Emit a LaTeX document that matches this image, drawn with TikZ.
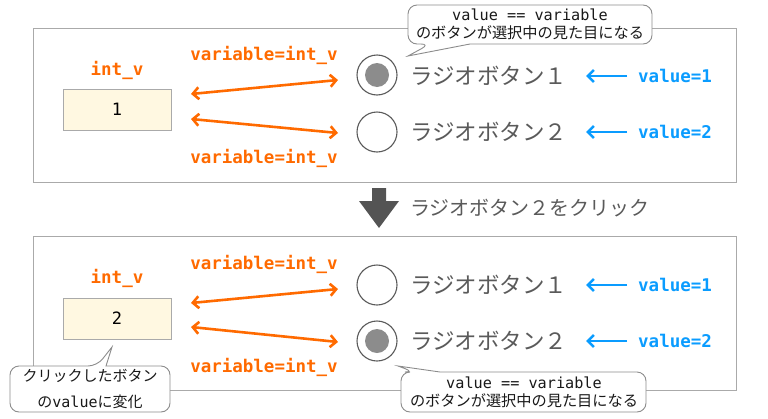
\documentclass[tikz,border=0pt]{standalone}
\usepackage{fontspec}
\newfontfamily\jp{Noto Sans CJK JP}
\newfontfamily\mono{DejaVu Sans Mono}
\usetikzlibrary{arrows.meta}
\definecolor{orng}{HTML}{FF6A00}
\definecolor{blu}{HTML}{0A9CFF}
\definecolor{txtgray}{HTML}{5A5A5A}
\definecolor{panelgray}{HTML}{AAAAAA}
\definecolor{boxfill}{HTML}{FFF8E1}
\tikzset{
  panel/.style={draw=panelgray, line width=1pt},
  varbox/.style={draw=panelgray, fill=boxfill, line width=1pt, minimum width=108pt, minimum height=41pt, inner sep=0pt, font=\mono\fontsize{17}{17}\selectfont},
  olabel/.style={text=orng, font=\mono\bfseries\fontsize{17.5}{18}\selectfont, inner sep=0pt},
  blabel/.style={text=blu, font=\mono\bfseries\fontsize{17.5}{18}\selectfont, inner sep=0pt, anchor=west},
  radiotxt/.style={text=txtgray, font=\jp\fontsize{22.5}{23}\selectfont, inner sep=0pt, anchor=west},
  radio/.style={circle, draw=txtgray, line width=1.1pt, minimum size=40pt, inner sep=0pt},
  radiodot/.style={circle, fill=black!45, minimum size=24pt, inner sep=0pt},
  oarrow/.style={draw=orng, line width=2.6pt, {Straight Barb[length=6pt,width=12pt]}-{Straight Barb[length=6pt,width=12pt]}},
  barrow/.style={draw=blu, line width=2.6pt, -{Straight Barb[length=6pt,width=12pt]}},
  callout/.style={draw=black!45, fill=white, line width=0.9pt},
  calltxt/.style={font=\fontsize{15.2}{17.5}\selectfont, align=center, inner sep=0pt, text=black!90},
}
\begin{document}
\begin{tikzpicture}[x=1pt,y=-1pt]
\useasboundingbox (0,0) rectangle (768,418);

% ---------- top panel ----------
\draw[panel] (33,28) rectangle (736,182);
\node[olabel] (tint) at (117,70) {int\_v};
\node[varbox] (tbox) at (117,109.5) {1};
\node[olabel] (tl1) at (264,55) {variable=int\_v};
\node[olabel] (tl2) at (264,158) {variable=int\_v};
\node[radio] (tr1) at (377,75) {};
\node[radiodot] (td1) at (tr1) {};
\node[radio] (tr2) at (377,132) {};
\node[radiotxt] (tt1) at (410,76) {ラジオボタン１};
\node[radiotxt] (tt2) at (410,132) {ラジオボタン２};
\node[blabel] (tv1) at (638,76) {value=1};
\node[blabel] (tv2) at (638,132) {value=2};
\coordinate (ta1s) at (191,94); \coordinate (ta1e) at (338,80);
\coordinate (ta2s) at (191,119); \coordinate (ta2e) at (338,133);
\draw[oarrow] (ta1s) -- (ta1e);
\draw[oarrow] (ta2s) -- (ta2e);
\coordinate (tb1s) at (627,76); \coordinate (tb1e) at (586,76);
\coordinate (tb2s) at (627,132); \coordinate (tb2e) at (586,132);
\draw[barrow] (tb1s) -- (tb1e);
\draw[barrow] (tb2s) -- (tb2e);

% top callout
\draw[callout, rounded corners=9pt] (470,44) -- (652,44) -- (652,5) -- (408,5) -- (408,44) -- (430,44) [sharp corners] -- (408,56) -- (470,44) -- cycle;
\node[calltxt] (tc) at (530,24.5) {{\mono value == variable}\\{\jp のボタンが選択中の見た目になる}};

% ---------- middle ----------
\draw[fill=black!67, draw=none] (372,188) -- (386,188) -- (386,201) -- (399,201) -- (379,228) -- (359,201) -- (372,201) -- cycle;
\node[text=txtgray, font=\jp\fontsize{20}{20}\selectfont, inner sep=0pt, anchor=west] (mid) at (410,208) {ラジオボタン２をクリック};

% ---------- bottom panel ----------
\draw[panel] (33,236) rectangle (736,390);
\node[olabel] (bint) at (117,278) {int\_v};
\node[varbox] (bbox) at (117,318.5) {2};
\node[olabel] (bl1) at (264,264) {variable=int\_v};
\node[olabel] (bl2) at (264,367) {variable=int\_v};
\node[radio] (br1) at (377,285) {};
\node[radio] (br2) at (377,341) {};
\node[radiodot] (bd2) at (br2) {};
\node[radiotxt] (bt1) at (410,285) {ラジオボタン１};
\node[radiotxt] (bt2) at (410,341) {ラジオボタン２};
\node[blabel] (bv1) at (638,285) {value=1};
\node[blabel] (bv2) at (638,341) {value=2};
\coordinate (ba1s) at (191,303); \coordinate (ba1e) at (338,289);
\coordinate (ba2s) at (191,327); \coordinate (ba2e) at (338,342);
\draw[oarrow] (ba1s) -- (ba1e);
\draw[oarrow] (ba2s) -- (ba2e);
\coordinate (bb1s) at (627,285); \coordinate (bb1e) at (586,285);
\coordinate (bb2s) at (627,341); \coordinate (bb2e) at (586,341);
\draw[barrow] (bb1s) -- (bb1e);
\draw[barrow] (bb2s) -- (bb2e);

% bottom right callout
\draw[callout, rounded corners=9pt] (440,372) -- (646,372) -- (646,412) -- (401,412) -- (401,372) -- (414,372) [sharp corners] -- (398,366) -- (440,372) -- cycle;
\node[calltxt] (bc) at (524,392.5) {{\mono value == variable}\\{\jp のボタンが選択中の見た目になる}};

% bottom left callout
\draw[callout, rounded corners=9pt] (106,366) -- (170,366) -- (170,412) -- (10,412) -- (10,366) -- (97,366) [sharp corners] -- (112,347) -- (106,366) -- cycle;
\node[calltxt, font=\fontsize{15}{26}\selectfont] (lc) at (90,389) {{\jp クリックしたボタン}\\{\jp の}{\mono value}{\jp に変化}};
\end{tikzpicture}
\end{document}
